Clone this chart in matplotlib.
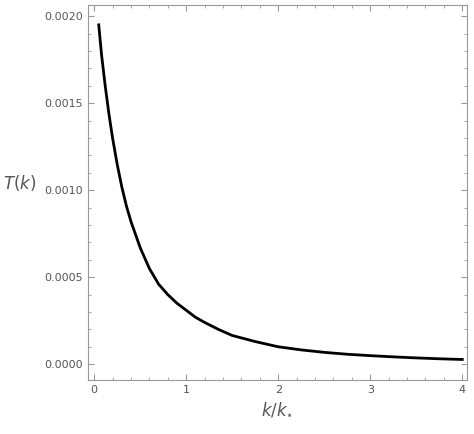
import matplotlib
matplotlib.use("Agg")
import matplotlib.pyplot as plt
from matplotlib.ticker import MultipleLocator

k_vals = [0.05, 0.08, 0.12, 0.16, 0.2, 0.25, 0.3, 0.35, 0.4, 0.5, 0.6, 0.7, 0.8, 0.9, 1.0,
          1.1, 1.2, 1.35, 1.5, 1.75, 2.0, 2.25, 2.5, 2.75, 3.0, 3.25, 3.5, 3.75, 4.0]
T_vals = [0.00195, 0.00178, 0.00160, 0.00144, 0.00130, 0.00115, 0.00102, 0.00091, 0.00082,
          0.00067, 0.00055, 0.00046, 0.00040, 0.00035, 0.00031, 0.00027, 0.00024, 0.00020,
          0.000165, 0.00013, 0.000100, 0.000082, 0.000068, 0.000057, 0.000049, 0.000042,
          0.000036, 0.000031, 0.000027]
x_ticks = [0, 1, 2, 3, 4]
y_ticks = [0.0, 0.0005, 0.0010, 0.0015, 0.0020]
y_labels = ["0.0000", "0.0005", "0.0010", "0.0015", "0.0020"]

fig = plt.figure(figsize=(4.74, 4.34), dpi=100)
ax = fig.add_axes([0.186, 0.124, 0.799, 0.864])
ax.plot(k_vals, T_vals, color="black", lw=2)
ax.set_xlim(-0.065, 4.05)
ax.set_ylim(-0.000092, 0.002063)
ax.set_xticks(x_ticks)
ax.set_yticks(y_ticks)
ax.set_yticklabels(y_labels)
ax.xaxis.set_minor_locator(MultipleLocator(0.2))
ax.yaxis.set_minor_locator(MultipleLocator(0.0001))
gray = "#999999"
for s in ax.spines.values():
    s.set_color(gray)
ax.tick_params(which="both", direction="in", colors=gray, labelcolor="#555555", labelsize=8,
               top=True, right=True)
ax.tick_params(which="major", length=4)
ax.tick_params(which="minor", length=2)
ax.set_xlabel(r"$k/k_{\star}$", color="#555555", fontsize=12)
ax.set_ylabel(r"$T(k)$", color="#555555", fontsize=12, rotation=0, labelpad=18)
fig.savefig("out.png", dpi=100)
